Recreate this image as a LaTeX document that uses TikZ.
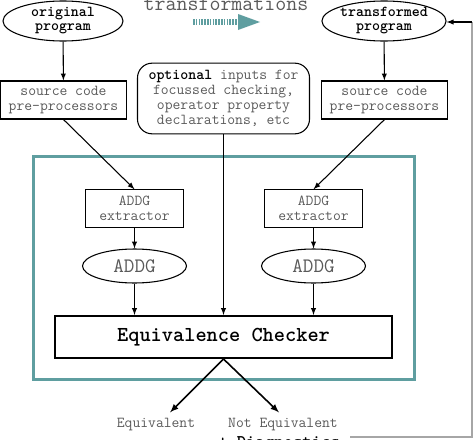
\documentclass[tikz,border=0pt]{standalone}
\usepackage{fontspec}
\usetikzlibrary{calc,shapes,arrows,positioning}
\definecolor{tealframe}{RGB}{95,158,160}
\definecolor{softtext}{RGB}{90,90,90}
\tikzset{%
    program/.style={%
        ellipse, draw, line width=0.8pt, minimum width=90pt, minimum height=30pt, inner sep=0pt,
        align=center, font=\ttfamily\bfseries\fontsize{11.4}{10.5}\selectfont
    },
    prep/.style={%
        rectangle, draw, line width=0.8pt, minimum width=95pt, minimum height=28.5pt, inner sep=0pt,
        align=center, text=softtext, font=\ttfamily\fontsize{11.4}{11.2}\selectfont
    },
    options/.style={%
        rectangle, rounded corners=11pt, draw, line width=0.8pt, minimum width=129pt, minimum height=53pt,
        inner sep=0pt, align=center, text=softtext, font=\ttfamily\fontsize{11.4}{11.2}\selectfont
    },
    extractor/.style={%
        rectangle, draw, line width=0.8pt, minimum width=73pt, minimum height=28pt, inner sep=0pt,
        align=center, text=softtext, font=\ttfamily\fontsize{11.4}{11.2}\selectfont
    },
    addg/.style={%
        ellipse, draw, line width=0.8pt, minimum width=78pt, minimum height=25.5pt, inner sep=0pt,
        text=softtext, font=\ttfamily\fontsize{15.4}{16}\selectfont
    },
    checker/.style={%
        rectangle, draw, line width=1.5pt, minimum width=253pt, minimum height=31.5pt, inner sep=0pt,
        font=\ttfamily\bfseries\fontsize{16}{17}\selectfont
    },
    result/.style={%
        text=softtext, inner sep=0pt, font=\ttfamily\fontsize{11.4}{12}\selectfont
    },
    flow/.style={%
        ->, >=latex, line width=0.8pt
    },
    outcome/.style={%
        ->, >=latex, line width=1.2pt
    },
}

\begin{document}
\begin{tikzpicture}[x=0.75pt, y=-0.75pt]
      \useasboundingbox (0,0) rectangle (474,439);
      \clip (0,0) rectangle (474,439);
      % top row
      \node[program] (orig) at (63,21) {original\\program};
      \node[program] (trans) at (384,21) {transformed\\program};
      \node[anchor=base, text=softtext, font=\ttfamily\fontsize{16}{17}\selectfont] (trlabel) at (226,10) {transformations};
      \draw [tealframe, line width=5pt, dash pattern=on 1.2pt off 0.9pt] (193,22) -- (238,22);
      \fill [tealframe] (238,14) -- (260,22) -- (238,30) -- cycle;
      % pre-processing
      \node[prep] (srcL) at (63.5,100) {source code\\pre-processors};
      \node[prep] (srcR) at (384.5,100) {source code\\pre-processors};
      \node[options] (opt) at (223.5,98.5) {\textcolor{black}{\bfseries optional} inputs for\\focussed checking,\\operator property\\declarations, etc};
      \draw [flow] (orig) -- (srcL);
      \draw [flow] (trans) -- (srcR);
      % checker frame
      \draw [tealframe, line width=2.25pt] (33,156) rectangle (414,379);
      \node[extractor] (extL) at (134.5,208.5) {ADDG\\extractor};
      \node[extractor] (extR) at (313.5,208.5) {ADDG\\extractor};
      \node[addg] (addgL) at (134.5,266) {ADDG};
      \node[addg] (addgR) at (313.5,266) {ADDG};
      \node[checker] (check) at (223.5,337) {Equivalence Checker};
      \draw [flow] (srcL.south) -- (extL.north);
      \draw [flow] (srcR.south) -- (extR.north);
      \draw [flow] (extL) -- (addgL);
      \draw [flow] (extR) -- (addgR);
      \draw [flow] (addgL.south) -- (addgL.south |- check.north);
      \draw [flow] (addgR.south) -- (addgR.south |- check.north);
      \draw [flow] (opt.south) -- (opt.south |- check.north);
      % results
      \node[result] (equiv) at (156,425) {Equivalent};
      \node[result] (notequiv) at (283,425) {Not Equivalent};
      \node[inner sep=0pt, font=\ttfamily\bfseries\fontsize{13.4}{14}\selectfont] (diag) at (279,444) {+ Diagnostics};
      \draw [outcome] (check.south) -- ($(equiv.north)+(14,-6)$);
      \draw [outcome] (check.south) -- ($(notequiv.north)+(-4,-6)$);
      % feedback
      \coordinate (fbA) at (350,437);
      \coordinate (fbB) at (472,437);
      \coordinate (fbC) at (472,22);
      \draw [gray!70, line width=0.8pt] (fbA) -- (fbB) -- (fbC);
      \draw [flow] (fbC) -- (fbC -| trans.east);
    \end{tikzpicture}
\end{document}
